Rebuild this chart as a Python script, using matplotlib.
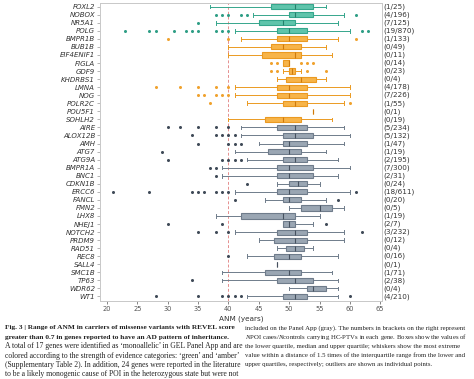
"""Range of ANM in carriers of missense variants (REVEL > 0.7), AD genes."""

import matplotlib
matplotlib.use("Agg")
import matplotlib.pyplot as plt
from matplotlib.transforms import blended_transform_factory

plt.rcParams["mathtext.fontset"] = "custom"
plt.rcParams["mathtext.it"] = "Liberation Serif:italic"
plt.rcParams["mathtext.rm"] = "Liberation Serif"

genes = ["FOXL2", "NOBOX", "NR5A1", "POLG", "BMPR1B", "BUB1B", "EIF4ENIF1", "FIGLA",
         "GDF9", "KHDRBS1", "LMNA", "NOG", "POLR2C", "POU5F1", "SOHLH2", "AIRE",
         "ALOX12B", "AMH", "ATG7", "ATG9A", "BMPR1A", "BNC1", "CDKN1B", "ERCC6",
         "FANCL", "FMN2", "LHX8", "NHEJ1", "NOTCH2", "PRDM9", "RAD51", "REC8",
         "SALL4", "SMC1B", "TP63", "WDR62", "WT1"]
counts = ["(1/25)", "(4/196)", "(7/125)", "(19/870)", "(1/133)", "(0/49)", "(0/11)", "(0/14)",
          "(0/23)", "(0/4)", "(4/178)", "(7/226)", "(1/55)", "(0/1)", "(0/19)", "(5/234)",
          "(5/132)", "(1/47)", "(1/19)", "(2/195)", "(7/300)", "(2/31)", "(0/24)", "(18/611)",
          "(0/20)", "(0/5)", "(1/19)", "(2/7)", "(3/232)", "(0/12)", "(0/4)", "(0/16)",
          "(0/1)", "(1/71)", "(2/38)", "(0/4)", "(4/210)"]
category = ["green"] * 4 + ["amber"] * 11 + ["gray"] * 22

whislo = [37, 44, 38, 41, 42, 40, 40, 49, 49, 48, 41, 41, 43, 54, 40, 42,
          42, 45, 41, 43, 39, 39, 48, 41, 46, 50, 38, 49, 41, 45, 48, 43,
          48, 39, 39, 50, 43]
q1 = [47, 50, 45, 48, 48, 47, 45.5, 49, 50, 49.5, 48, 48, 49, 54, 46, 48,
      49, 49, 46.5, 49, 48, 48, 50, 48, 49, 52, 42, 49, 48, 47.5, 49.5, 47.5,
      48, 46, 48, 53, 49]
med = [51, 51, 49, 50, 50, 49, 51, 50, 50.5, 52, 50, 50, 51, 54, 49, 51,
       51, 50, 50, 51, 50, 50, 51.5, 50, 50, 55, 49, 50, 51, 51, 51, 50,
       48, 50, 51, 54, 51]
q3 = [54, 54, 51, 53, 53, 52, 52, 50, 51, 54.5, 53, 53, 53, 54, 52, 53,
      54, 53, 52, 53, 54, 54, 53, 53, 52, 57, 51, 51, 53, 53, 52.5, 52,
      48, 52, 54, 56, 53]
whishi = [56, 59, 58, 60, 58, 56, 57, 50, 52, 56, 60, 60, 59, 54, 57, 59,
          60, 59, 56, 58, 60, 58, 55, 60, 56, 59, 55, 54, 59, 59, 54, 58,
          48, 57, 58, 58, 58]
fliers = [
    [], [38, 39, 40, 42, 43, 61], [35], [23, 27, 28, 31, 33, 34, 35, 38, 39, 40, 62, 63],
    [30, 40, 61], [], [], [47, 48, 52, 53, 54], [47, 48, 53, 56], [],
    [28, 32, 35, 38, 40], [35, 36, 38, 39, 40], [37, 60], [], [],
    [30, 32, 35, 38, 40], [34, 38, 39, 40, 41], [35, 40, 41, 42], [29],
    [30, 39, 40, 41, 42], [37, 38], [38], [43], [21, 27, 34, 35, 36, 38, 39, 40, 61],
    [41, 58], [], [], [30, 39, 56], [35, 38, 40, 62], [], [], [40], [], [], [34], [],
    [28, 35, 39, 40, 41, 42, 60],
]

palette = {
    "green": {"face": "#5fc4ab", "edge": "#35a68c", "med": "#267f6b", "dot": "#2f9e86"},
    "amber": {"face": "#f7b449", "edge": "#eb9a22", "med": "#cf7a0c", "dot": "#f0a22e"},
    "gray": {"face": "#9aa6b3", "edge": "#6f7c8b", "med": "#46515f", "dot": "#3f4a58"},
}

fig = plt.figure(figsize=(4.74, 3.79), dpi=100)
ax = fig.add_axes([0.211, 0.206, 0.595, 0.786])

for i, g in enumerate(genes):
    c = palette[category[i]]
    st = [{"whislo": whislo[i], "q1": q1[i], "med": med[i], "q3": q3[i],
           "whishi": whishi[i], "fliers": fliers[i]}]
    ax.bxp(st, positions=[i], widths=0.64, orientation="horizontal", patch_artist=True,
           boxprops=dict(facecolor=c["face"], edgecolor=c["edge"], linewidth=0.8),
           medianprops=dict(color=c["med"], linewidth=0.8),
           whiskerprops=dict(color=c["edge"], linewidth=0.7),
           capprops=dict(color=c["edge"], linewidth=0.7),
           flierprops=dict(marker="o", markersize=2.2, markerfacecolor=c["dot"],
                           markeredgecolor="none"),
           capwidths=0.45)

ax.axvline(40, color="#e58f8f", linestyle=(0, (3, 2)), linewidth=0.7, zorder=0)

ax.set_xlim(18.85, 65.3)
ax.set_ylim(len(genes) - 0.45, -0.45)
ax.set_xticks([20, 25, 30, 35, 40, 45, 50, 55, 60, 65])
ax.set_yticks(range(len(genes)))
ax.set_yticklabels(genes, fontstyle="italic", fontsize=5.0, color="#333333")
ax.tick_params(axis="x", labelsize=4.8, colors="#555555", length=2, width=0.5, pad=2)
ax.tick_params(axis="y", length=2.5, width=0.5, color="#999999", pad=1.0)
for sp in ax.spines.values():
    sp.set_color("#c8c8c8")
    sp.set_linewidth(0.7)
ax.set_xlabel("ANM (years)", fontsize=5.2, color="#333333", labelpad=2)

trans = blended_transform_factory(ax.transAxes, ax.transData)
for i, lab in enumerate(counts):
    ax.text(1.006, i, lab, transform=trans, fontsize=5.2, color="#333333",
            va="center", ha="left")

left_lines = [
    ("Fig. 3 | Range of ANM in carriers of missense variants with REVEL score", "bold"),
    ("greater than 0.7 in genes reported to have an AD pattern of inheritance.", "bold"),
    ("A total of 17 genes were identified as \u2018monoallelic\u2019 in GEL Panel App and are", "normal"),
    ("colored according to the strength of evidence categories: \u2018green\u2019 and \u2018amber\u2019", "normal"),
    ("(Supplementary Table 2). In addition, 24 genes were reported in the literature", "normal"),
    ("to be a likely monogenic cause of POI in the heterozygous state but were not", "normal"),
]
right_lines = [
    "included on the Panel App (gray). The numbers in brackets on the right represent",
    "$N$POI cases/$N$controls carrying HC-PTVs in each gene. Boxes show the values of",
    "the lower quartile, median and upper quartile; whiskers show the most extreme",
    "value within a distance of 1.5 times of the interquartile range from the lower and",
    "upper quartiles, respectively; outliers are shown as individual points.",
]
y0 = 1 - 328 / 379
dy = 9.2 / 379
for k, (txt, w) in enumerate(left_lines):
    fig.text(5 / 474, y0 - k * dy, txt, fontsize=5.3 if w == "bold" else 5.5,
             fontweight=w, family="Liberation Serif", color="#222222", va="center")
for k, txt in enumerate(right_lines):
    fig.text(245 / 474, y0 - k * dy, txt, fontsize=4.9,
             family="Liberation Serif", color="#222222", va="center")

fig.savefig("out.png", dpi=100)
